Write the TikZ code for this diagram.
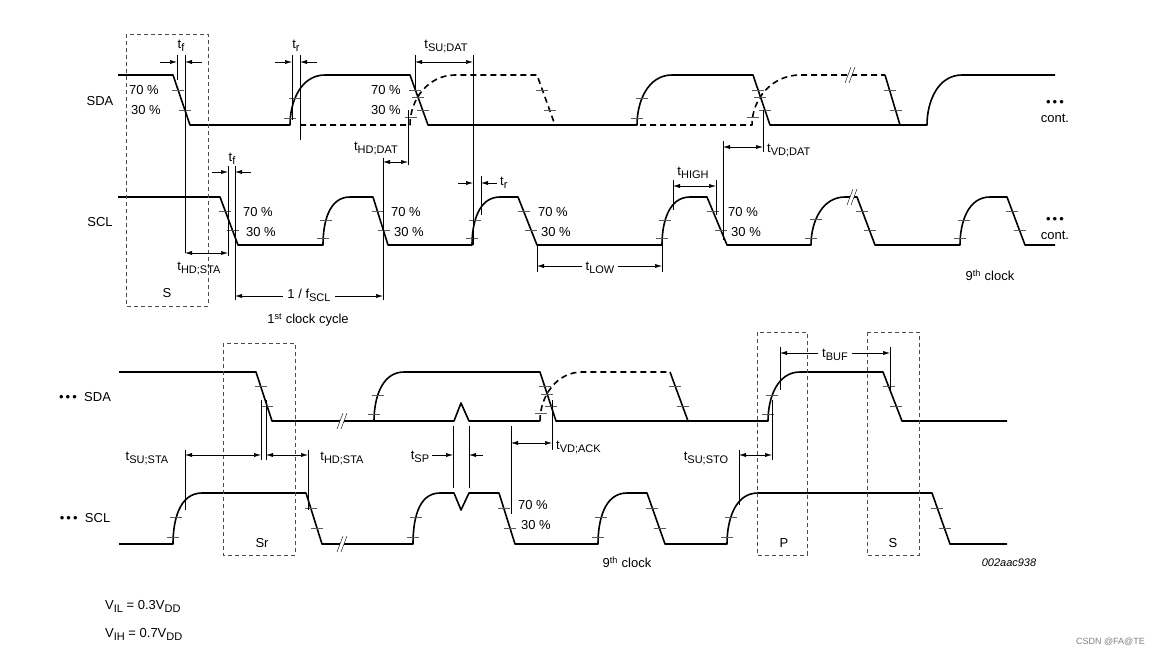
\documentclass[tikz,border=0pt]{standalone}
\usepackage{fontspec}
\setmainfont{Liberation Sans}
\usetikzlibrary{calc,arrows.meta}
\newcommand\tl[1]{t\raisebox{-3pt}{\fontsize{11}{11}\selectfont #1}}
\newcommand\FT[4]{\draw[tk] ($(#1,#3)!0.3!(#2,#4)$) ++(-6,0) -- ++(12,0); \draw[tk] ($(#1,#3)!0.7!(#2,#4)$) ++(-6,0) -- ++(12,0);}
\newcommand\brk[2]{\draw[white,line width=4pt] (#1-2,#2+7) -- (#1+2,#2-7); \draw[thin] (#1-5,#2+8) -- (#1+1,#2-8) (#1-1,#2+8) -- (#1+5,#2-8);}
\begin{document}
\begin{tikzpicture}[x=1pt,y=-1pt,
  wave/.style={line width=1.6pt,line join=round},
  dwave/.style={wave,dash pattern=on 6pt off 4pt},
  tk/.style={line width=0.5pt,gray!70!black},
  rk/.style={inner sep=0pt,text=gray!70!black,font=\fontsize{1}{1}\selectfont},
  rise/.style={out=90,in=180,edge node={node[rk,pos=.1]{\rule{12pt}{0.5pt}} node[rk,pos=.38]{\rule{12pt}{0.5pt}}}},
  dim/.style={line width=0.5pt},
  ar/.style={line width=0.5pt,-{Latex[length=7pt,width=4pt]}},
  ar2/.style={line width=0.5pt,{Latex[length=7pt,width=4pt]}-{Latex[length=7pt,width=4pt]}},
  box/.style={line width=0.7pt,gray!60!black,dash pattern=on 4pt off 3pt},
  lb/.style={font=\fontsize{13}{15}\selectfont,inner sep=1pt},
  every node/.style={lb}]
\useasboundingbox[fill=white] (0,0) rectangle (1159,656);
% ===== top SDA =====
\draw[wave] (118,75) -- (173,75) -- (190,125) -- (290,125) to[rise] (325,75) -- (410,75) -- (428,125) -- (637,125) to[rise] (672,75) -- (753,75) -- (770,125) -- (927,125) to[out=90,in=180] (962,75) -- (1055,75);
\draw[dwave] (300,125) -- (410,125) to[rise] (455,75) -- (537,75) -- (555,125);
\draw[dwave] (640,125) -- (752,125) to[rise] (800,75) -- (885,75);
\draw[wave] (885,75) -- (900,125);
\brk{850}{75}
\FT{173}{190}{75}{125}\FT{410}{428}{75}{125}
\FT{537}{555}{75}{125}\FT{753}{770}{75}{125}\FT{885}{900}{75}{125}
% ===== top SCL =====
\draw[wave] (118,197) -- (220,197) -- (238,245) -- (323,245) to[rise] (350,197) -- (373,197) -- (388,245) -- (472,245) to[rise] (500,197) -- (518,197) -- (537,245) -- (662,245) to[rise] (690,197) -- (707,197) -- (727,245) -- (811,245) to[rise] (845,197) -- (857,197) -- (875,245) -- (960,245) to[rise] (990,197) -- (1007,197) -- (1025,245) -- (1055,245);
\brk{852}{197}
\FT{220}{238}{197}{245}\FT{373}{388}{197}{245}\FT{518}{537}{197}{245}
\FT{707}{727}{197}{245}\FT{857}{875}{197}{245}\FT{1007}{1025}{197}{245}
% labels top
\node at (100,101) {SDA};
\node at (100,222) {SCL};
\node at (144,90) {70 \%}; \node at (146,110) {30 \%};
\node at (386,90) {70 \%}; \node at (386,110) {30 \%};
\node at (258,212) {70 \%}; \node at (261,232) {30 \%};
\node at (406,212) {70 \%}; \node at (409,232) {30 \%};
\node at (553,212) {70 \%}; \node at (556,232) {30 \%};
\node at (743,212) {70 \%}; \node at (746,232) {30 \%};
\node at (1055,103) {\textbullet\,\textbullet\,\textbullet}; \node at (1055,118) {cont.};
\node at (1055,220) {\textbullet\,\textbullet\,\textbullet}; \node at (1055,235) {cont.};
\node at (990,275) {9\textsuperscript{th} clock};
% S box
\draw[box] (126,34) rectangle (208,306); \node at (167,293) {S};
% tf top
\draw[dim] (177,55) -- (177,80) (185,55) -- (185,253);
\draw[ar] (160,62) -- (177,62); \draw[ar] (202,62) -- (185,62);
\node at (181,46) {\tl{f}};
% tr top
\draw[dim] (292,55) -- (292,120) (300,55) -- (300,140);
\draw[ar] (275,62) -- (292,62); \draw[ar] (317,62) -- (300,62);
\node at (296,46) {\tl{r}};
% tSU;DAT
\draw[dim] (415,55) -- (415,90) (473,55) -- (473,245);
\draw[ar2] (415,62) -- (473,62);
\node at (446,46) {\tl{SU;DAT}};
% tHD;DAT
\draw[dim] (408,110) -- (408,165) (383,158) -- (383,300);
\draw[ar2] (383,162) -- (408,162);
\node at (376,148) {\tl{HD;DAT}};
% tf SCL
\draw[dim] (228,166) -- (228,256) (235,166) -- (235,300);
\draw[ar] (212,172) -- (228,172); \draw[ar] (251,172) -- (235,172);
\node at (232,159) {\tl{f}};
% tHD;STA
\draw[ar2] (185,253) -- (228,253);
\node at (199,268) {\tl{HD;STA}};
% 1/fSCL
\draw[ar2] (235,296) -- (383,296);
\node[fill=white,inner xsep=4pt] at (309,295) {1 / f\raisebox{-3pt}{\fontsize{11}{11}\selectfont SCL}};
\node at (308,320) {1\textsuperscript{st} clock cycle};
% tr SCL
\draw[dim] (481,176) -- (481,215);
\draw[ar] (458,183) -- (473,183); \draw[ar] (497,183) -- (481,183);
\node[anchor=west] at (499,183) {\tl{r}};
% tLOW
\draw[dim] (537,245) -- (537,272) (662,240) -- (662,272);
\draw[ar2] (537,266) -- (662,266);
\node[fill=white,inner xsep=4pt] at (600,268) {\tl{LOW}};
% tHIGH
\draw[dim] (673,180) -- (673,210) (716,180) -- (716,215);
\draw[ar2] (673,186) -- (716,186);
\node at (693,173) {\tl{HIGH}};
% tVD;DAT
\draw[dim] (723,141) -- (723,240) (763,110) -- (763,152);
\draw[ar2] (723,147) -- (763,147);
\node[anchor=west] at (766,150) {\tl{VD;DAT}};
% ===== bottom SDA =====
\draw[wave] (119,372) -- (256,372) -- (272,421) -- (454,421) -- (461,403) -- (469,421) -- (540,421);
\draw[wave] (374,421) to[rise] (404,372) -- (540,372) -- (556,421) -- (768,421) to[rise] (800,372) -- (883,372) -- (902,421) -- (1007,421);
\draw[dwave] (540,421) to[rise] (582,372) -- (670,372);
\draw[wave] (670,372) -- (688,421);
\brk{342}{421}
\FT{256}{272}{372}{421}\FT{540}{556}{372}{421}\FT{670}{688}{372}{421}\FT{883}{902}{372}{421}
% ===== bottom SCL =====
\draw[wave] (119,544) -- (173,544) to[rise] (202,493) -- (306,493) -- (322,544) -- (413,544) to[rise] (440,493) -- (454,493) -- (461,510) -- (469,493) -- (499,493) -- (515,544) -- (598,544) to[rise] (627,493) -- (647,493) -- (665,544) -- (727,544) to[rise] (758,493) -- (932,493) -- (950,544) -- (1007,544);
\brk{342}{544}
\FT{306}{322}{493}{544}\FT{499}{515}{493}{544}\FT{647}{665}{493}{544}\FT{932}{950}{493}{544}
% labels bottom
\node at (85,397) {\textbullet\,\textbullet\,\textbullet\ \ SDA};
\node at (85,518) {\textbullet\,\textbullet\,\textbullet\ \ SCL};
\node at (533,505) {70 \%}; \node at (536,525) {30 \%};
\node at (627,562) {9\textsuperscript{th} clock};
\node at (1009,563) {\itshape\fontsize{11}{13}\selectfont 002aac938};
% Sr box
\draw[box] (223,343) rectangle (295,555); \node at (262,543) {Sr};
% tSU;STA / tHD;STA
\draw[dim] (185,450) -- (185,510) (261,400) -- (261,460) (266,400) -- (266,460) (308,450) -- (308,510);
\draw[ar2] (185,455) -- (261,455); \draw[ar2] (266,455) -- (308,455);
\node at (147,458) {\tl{SU;STA}};
\node at (342,458) {\tl{HD;STA}};
% tSP
\draw[dim] (453,426) -- (453,488) (469,426) -- (469,488);
\draw[ar] (432,455) -- (453,455); \draw[ar] (483,455) -- (469,455);
\node at (420,457) {\tl{SP}};
% tVD;ACK
\draw[dim] (511,426) -- (511,514) (552,400) -- (552,450);
\draw[ar2] (511,443) -- (552,443);
\node[anchor=west] at (555,447) {\tl{VD;ACK}};
% tSU;STO
\draw[dim] (739,450) -- (739,505) (772,400) -- (772,460);
\draw[ar2] (739,455) -- (772,455);
\node at (706,458) {\tl{SU;STO}};
% P and S boxes
\draw[box] (757,332) rectangle (807,555); \node at (784,543) {P};
\draw[box] (867,332) rectangle (919,555); \node at (893,543) {S};
% tBUF
\draw[dim] (780,347) -- (780,390) (890,347) -- (890,390);
\draw[ar2] (780,353) -- (890,353);
\node[fill=white,inner xsep=4pt] at (835,355) {\tl{BUF}};
% formulas
\node[anchor=west] at (104,606) {V\raisebox{-3pt}{\fontsize{11}{11}\selectfont IL} = 0.3V\raisebox{-3pt}{\fontsize{11}{11}\selectfont DD}};
\node[anchor=west] at (104,634) {V\raisebox{-3pt}{\fontsize{11}{11}\selectfont IH} = 0.7V\raisebox{-3pt}{\fontsize{11}{11}\selectfont DD}};
\node[anchor=east,gray,font=\fontsize{9}{11}\selectfont] at (1146,642) {CSDN @FA@TE};
\end{tikzpicture}
\end{document}
